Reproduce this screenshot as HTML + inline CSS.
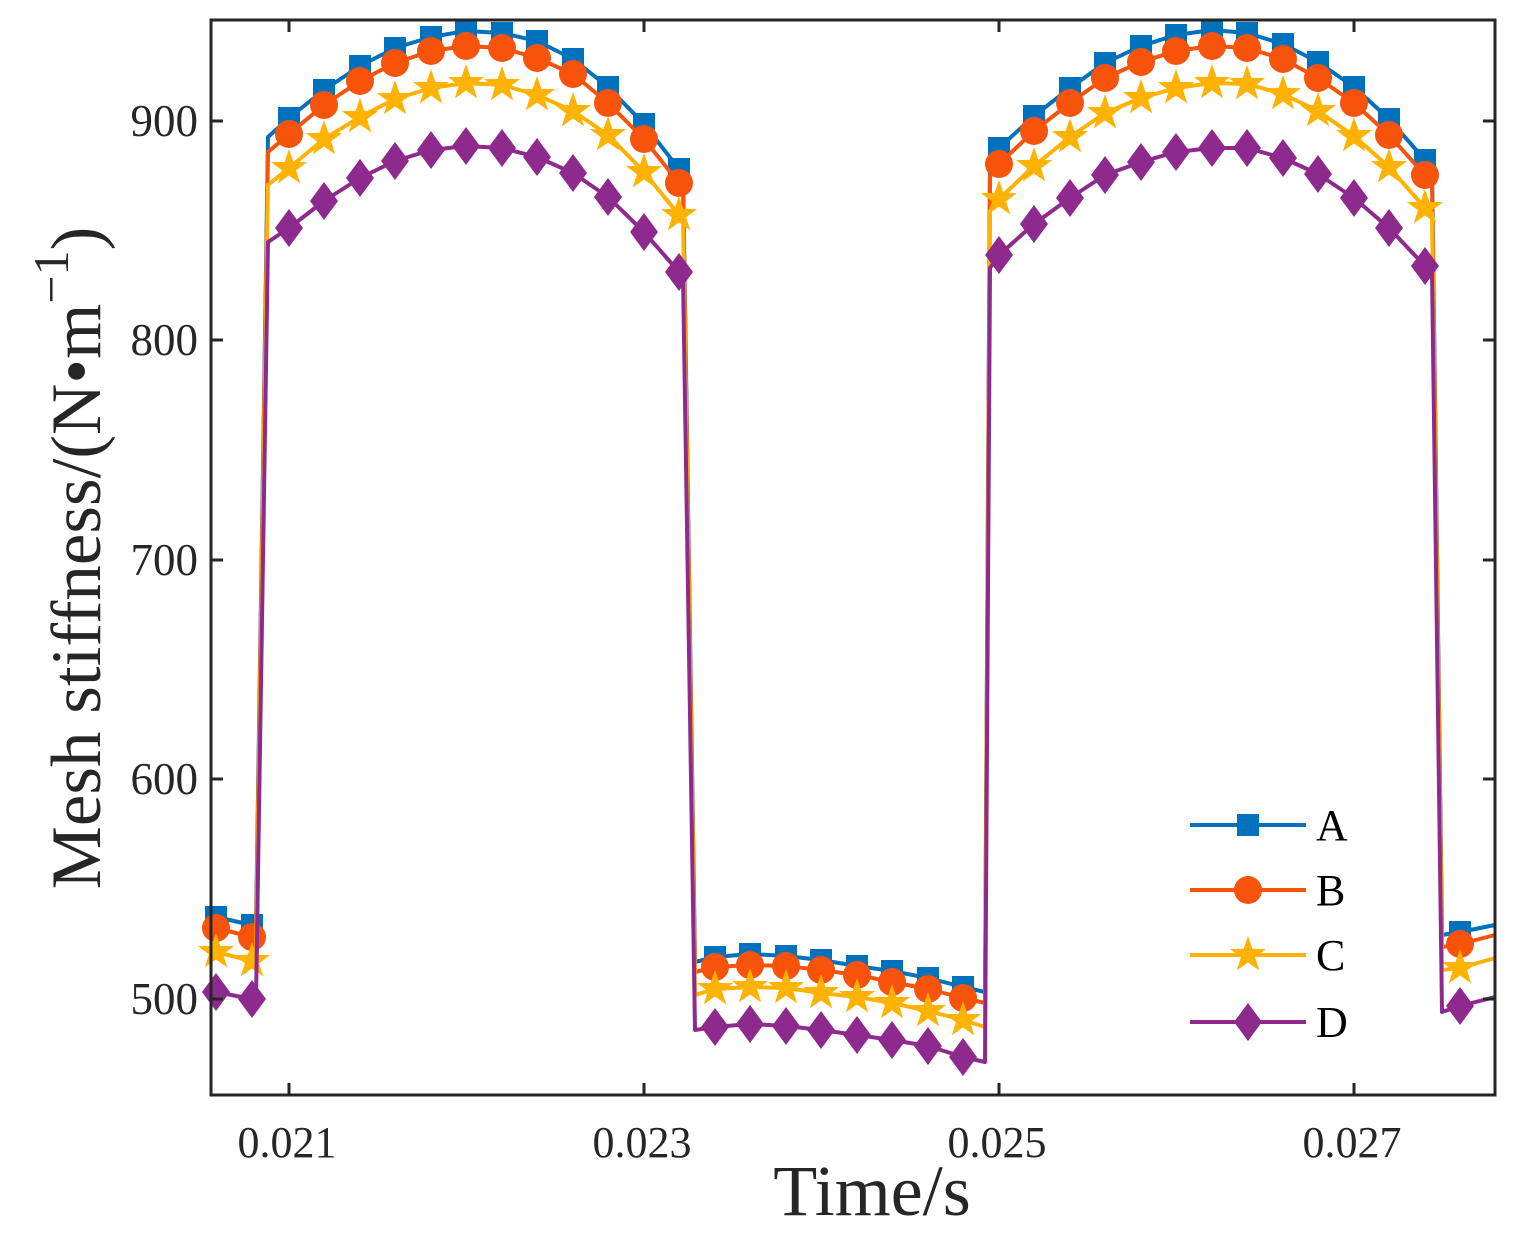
<!DOCTYPE html>
<html><head><meta charset="utf-8"><style>
html,body{margin:0;padding:0;background:#fff;}
svg{display:block;font-family:"Liberation Serif",serif;}
</style></head><body>
<svg id="s" width="1517" height="1247" viewBox="0 0 1517 1247" xmlns="http://www.w3.org/2000/svg">
<g id="plot"></g>
<rect x="211" y="20" width="1284" height="1075" fill="none" stroke="#262626" stroke-width="3"/>
<g stroke="#262626" stroke-width="3">
<line x1="211" y1="121" x2="223" y2="121"/><line x1="211" y1="340" x2="223" y2="340"/><line x1="211" y1="560" x2="223" y2="560"/><line x1="211" y1="779" x2="223" y2="779"/><line x1="211" y1="999" x2="223" y2="999"/>
<line x1="1495" y1="121" x2="1483" y2="121"/><line x1="1495" y1="340" x2="1483" y2="340"/><line x1="1495" y1="560" x2="1483" y2="560"/><line x1="1495" y1="779" x2="1483" y2="779"/><line x1="1495" y1="999" x2="1483" y2="999"/>
<line x1="289" y1="1095" x2="289" y2="1083"/><line x1="644" y1="1095" x2="644" y2="1083"/><line x1="999" y1="1095" x2="999" y2="1083"/><line x1="1354" y1="1095" x2="1354" y2="1083"/>
<line x1="289" y1="20" x2="289" y2="32"/><line x1="644" y1="20" x2="644" y2="32"/><line x1="999" y1="20" x2="999" y2="32"/><line x1="1354" y1="20" x2="1354" y2="32"/>
</g>
<g font-size="45" fill="#262626" text-anchor="end">
<text x="198" y="136">900</text><text x="198" y="355">800</text><text x="198" y="575">700</text><text x="198" y="794">600</text><text x="198" y="1014">500</text>
</g>
<g font-size="44" fill="#262626" text-anchor="middle">
<text x="287" y="1157">0.021</text><text x="642" y="1157">0.023</text><text x="997" y="1157">0.025</text><text x="1352" y="1157">0.027</text>
</g>
<text x="872" y="1215" font-size="72" fill="#262626" text-anchor="middle">Time/s</text>
<text transform="translate(100,558) rotate(-90)" font-size="71" fill="#262626" text-anchor="middle">Mesh stiffness/(N•m<tspan dy="-32" font-size="50">−1</tspan><tspan dy="32">)</tspan></text>
<g id="leg" font-size="44" fill="#000"></g>
</svg>
<script>
var X1=[268,289,324,360,395,431,466,502,537,573,608,644,679,683];
var X2=[990,999,1034,1070,1105,1141,1176,1212,1247,1283,1318,1354,1389,1425,1432];
var L0=[216,252,256], L1=[695,715,750,786,821,857,892,928,963,985], L2=[1442,1460,1495];
var S={
A:{c:"#0072BD",h1:[137,118,90,66,48,37,31,33,41,59,87,124,169,172],h2:[160,148,116,88,63,46,35,30,33,44,62,87,119,160,165],l0:[917,925,926],l1:[962,957,954,956,960,966,971,978,987,992],l2:[935,932,925]},
B:{c:"#F8530A",h1:[152,134,105,81,63,51,46,48,58,74,103,139,183,186],h2:[176,164,131,103,78,62,51,46,48,59,78,103,135,175,180],l0:[928,937,938],l1:[972,967,965,966,970,975,982,989,998,1003],l2:[947,944,935]},
C:{c:"#FFB300",h1:[185,168,139,117,99,88,83,85,95,111,135,172,215,218],h2:[211,199,166,137,113,98,88,83,84,94,111,136,167,208,213],l0:[952,961,962],l1:[995,989,987,988,993,997,1003,1011,1020,1027],l2:[970,968,958]},
D:{c:"#8E2A8E",h1:[242,228,201,178,161,150,146,148,157,173,197,232,272,275],h2:[268,255,224,198,175,162,152,148,148,158,174,198,228,266,271],l0:[992,999,1000],l1:[1030,1027,1024,1026,1030,1035,1040,1046,1057,1062],l2:[1012,1006,997]}
};
var g=document.getElementById('plot'),h='';
function mk(k,x,y,c){
 if(k=='A')return '<rect x="'+(x-11)+'" y="'+(y-11)+'" width="22" height="22" fill="'+c+'"/>';
 if(k=='B')return '<circle cx="'+x+'" cy="'+y+'" r="14" fill="'+c+'"/>';
 if(k=='D')return '<polygon points="'+x+','+(y-19)+' '+(x+14)+','+y+' '+x+','+(y+19)+' '+(x-14)+','+y+'" fill="'+c+'"/>';
 var p=[];for(var i=0;i<10;i++){var r=i%2?7.5:19,a=-Math.PI/2+i*Math.PI/5;p.push((x+r*Math.cos(a)).toFixed(1)+','+(y+r*Math.sin(a)).toFixed(1));}
 return '<polygon points="'+p.join(' ')+'" fill="'+c+'"/>';
}
['A','B','C','D'].forEach(function(k){
 var s=S[k],pts=[];
 function add(X,Y){for(var i=0;i<X.length;i++)pts.push([X[i],Y[i]]);}
 add(L0,s.l0);add(X1,s.h1);add(L1,s.l1);add(X2,s.h2);add(L2,s.l2);
 h+='<polyline fill="none" stroke="'+s.c+'" stroke-width="4" stroke-linejoin="round" points="'+pts.map(function(p){return p.join(',')}).join(' ')+'"/>';
 [[L0,s.l0,[0,1]],[X1,s.h1,[1,2,3,4,5,6,7,8,9,10,11,12]],[L1,s.l1,[1,2,3,4,5,6,7,8]],[X2,s.h2,[1,2,3,4,5,6,7,8,9,10,11,12,13]],[L2,s.l2,[1]]].forEach(function(q){q[2].forEach(function(i){h+=mk(k,q[0][i],q[1][i],s.c);});});
});
g.innerHTML=h;
var lg='',ly={A:825,B:890,C:955,D:1022};
['A','B','C','D'].forEach(function(k){var c=S[k].c,y=ly[k];
 lg+='<line x1="1190" y1="'+y+'" x2="1306" y2="'+y+'" stroke="'+c+'" stroke-width="4"/>'+mk(k,1248,y,c)+'<text x="1316" y="'+(y+15)+'">'+k+'</text>';});
document.getElementById('leg').innerHTML=lg;
</script>
</body></html>
